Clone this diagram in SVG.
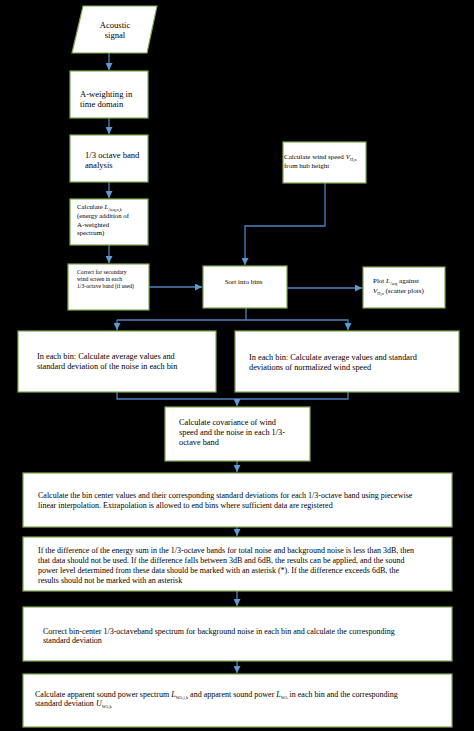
<svg xmlns="http://www.w3.org/2000/svg" width="474" height="731" viewBox="0 0 474 731">
<defs>
<marker id="arr" viewBox="0 0 10 10" refX="10" refY="5" markerWidth="7" markerHeight="7" markerUnits="userSpaceOnUse" orient="auto">
<path d="M0,0 L10,5 L0,10 z" fill="#5b9bd5"/>
</marker>
<style>
.n{fill:#fff;stroke:#7cab4e;stroke-width:1.2}
.c{fill:none;stroke:#4f81bd;stroke-width:1.3}
.a{marker-end:url(#arr)}
text{font-family:"Liberation Serif","Times New Roman",serif;fill:#000}
.t9{font-size:8.6px}
.t8{font-size:8px}
.t83{font-size:8.3px}
.t7{font-size:7px}
.t6{font-size:6.8px}
.t55{font-size:5.7px}
.sub{font-size:4.4px}
</style>
</defs>
<rect width="474" height="731" fill="#000"/>
<g id="connectors">
<path class="c a" d="M109,53 V70"/>
<path class="c a" d="M109,118 V134"/>
<path class="c a" d="M109,182 V198"/>
<path class="c a" d="M109,245 V263"/>
<path class="c a" d="M149,287 H202"/>
<path class="c a" d="M325,183 V226 H245 V265"/>
<path class="c a" d="M287,288 H362"/>
<path class="c" d="M246,308 V320"/>
<path class="c a" d="M117,320 V330"/>
<path class="c a" d="M117,320 H348 V330"/>
<path class="c" d="M117,392 V399 H348 V392"/>
<path class="c a" d="M237,399 V406"/>
<path class="c a" d="M237,461 V472"/>
<path class="c a" d="M237,527 V536"/>
<path class="c a" d="M237,591 V606"/>
<path class="c a" d="M237,661 V673"/>
</g>
<g id="acoustic">
<polygon class="n" points="83,6 157,6 147,53 72,53"/>
<text class="t9" x="115" y="28" text-anchor="middle">Acoustic</text>
<text class="t9" x="115" y="38" text-anchor="middle">signal</text>
</g>
<g id="aweight">
<rect class="n" x="70" y="71" width="78" height="47"/>
<text class="t9" x="80" y="97">A-weighting in</text>
<text class="t9" x="80" y="107">time domain</text>
</g>
<g id="octave">
<rect class="n" x="70" y="135" width="78" height="47"/>
<text class="t9" x="85" y="158">1/3 octave band</text>
<text class="t9" x="85" y="168">analysis</text>
</g>
<g id="laeq">
<rect class="n" x="70" y="199" width="78" height="46"/>
<text class="t6" x="77" y="209">Calculate <tspan font-style="italic">L</tspan><tspan class="sub" dy="1.5">Aeq,n,k</tspan></text>
<text class="t6" x="77" y="218">(energy addition of</text>
<text class="t6" x="77" y="226.5">A-weighted</text>
<text class="t6" x="77" y="235">spectrum)</text>
</g>
<g id="windscreen">
<rect class="n" x="68" y="264" width="81" height="46"/>
<text class="t55" x="77" y="274">Correct for secondary</text>
<text class="t55" x="77" y="281">wind screen in each</text>
<text class="t55" x="77" y="288">1/3-octave band (if used)</text>
</g>
<g id="windspeed">
<rect class="n" x="283" y="142" width="83" height="41"/>
<text class="t7" x="284" y="159">Calculate wind speed <tspan font-style="italic">V</tspan><tspan class="sub" dy="1.5">H,n</tspan></text>
<text class="t7" x="284" y="167.5">from hub height</text>
</g>
<g id="sort">
<rect class="n" x="203" y="266" width="84" height="42"/>
<text class="t7" x="243.5" y="284" text-anchor="middle">Sort into bins</text>
</g>
<g id="plot">
<rect class="n" x="363" y="267" width="82" height="41"/>
<text class="t7" x="373" y="283">Plot <tspan font-style="italic">L</tspan><tspan class="sub" dy="1.5">Aeq</tspan><tspan dy="-1.5"> against</tspan></text>
<text class="t7" x="373" y="293"><tspan font-style="italic">V</tspan><tspan class="sub" dy="1.5">H,n</tspan><tspan dy="-1.5"> (scatter plots)</tspan></text>
</g>
<g id="binnoise">
<rect class="n" x="18" y="331" width="198" height="61"/>
<text class="t83" x="37" y="359">In each bin: Calculate average values and</text>
<text class="t83" x="37" y="369">standard deviation of the noise in each bin</text>
</g>
<g id="binwind">
<rect class="n" x="235" y="331" width="224" height="61"/>
<text class="t83" x="249" y="360">In each bin: Calculate average values and standard</text>
<text class="t83" x="249" y="369.5">deviations of normalized wind speed</text>
</g>
<g id="covariance">
<rect class="n" x="165" y="407" width="145" height="54"/>
<text class="t83" x="179" y="425">Calculate covariance of wind</text>
<text class="t83" x="179" y="435">speed and the noise in each 1/3-</text>
<text class="t83" x="179" y="445">octave band</text>
</g>
<g id="bincenter">
<rect class="n" x="23" y="473" width="429" height="54"/>
<text class="t8" x="38" y="498">Calculate the bin center values and their corresponding standard deviations for each 1/3-octave band using piecewise</text>
<text class="t8" x="38" y="508">linear interpolation. Extrapolation is allowed to end bins where sufficient data are registered</text>
</g>
<g id="difference">
<rect class="n" x="23" y="537" width="429" height="54"/>
<text class="t8" x="38" y="553">If the difference of the energy sum in the 1/3-octave bands for total noise and background noise is less than 3dB, then</text>
<text class="t8" x="38" y="563">that data should not be used. If the difference falls between 3dB and 6dB, the results can be applied, and the sound</text>
<text class="t8" x="38" y="573">power level determined from these data should be marked with an asterisk (*). If the difference exceeds 6dB, the</text>
<text class="t8" x="38" y="583">results should not be marked with an asterisk</text>
</g>
<g id="correct">
<rect class="n" x="23" y="607" width="429" height="54"/>
<text class="t8" x="43" y="634">Correct bin-center 1/3-octaveband spectrum for background noise in each bin and calculate the corresponding</text>
<text class="t8" x="43" y="643">standard deviation</text>
</g>
<g id="apparent">
<rect class="n" x="23" y="674" width="429" height="53"/>
<text class="t8" x="35" y="697">Calculate apparent sound power spectrum <tspan font-style="italic">L</tspan><tspan class="sub" dy="1.5">WA,i,k</tspan><tspan dy="-1.5"> and apparent sound power </tspan><tspan font-style="italic">L</tspan><tspan class="sub" dy="1.5">WA</tspan><tspan dy="-1.5"> in each bin and the corresponding</tspan></text>
<text class="t8" x="35" y="706">standard deviation <tspan font-style="italic">U</tspan><tspan class="sub" dy="1.5">WA,k</tspan></text>
</g>
</svg>
